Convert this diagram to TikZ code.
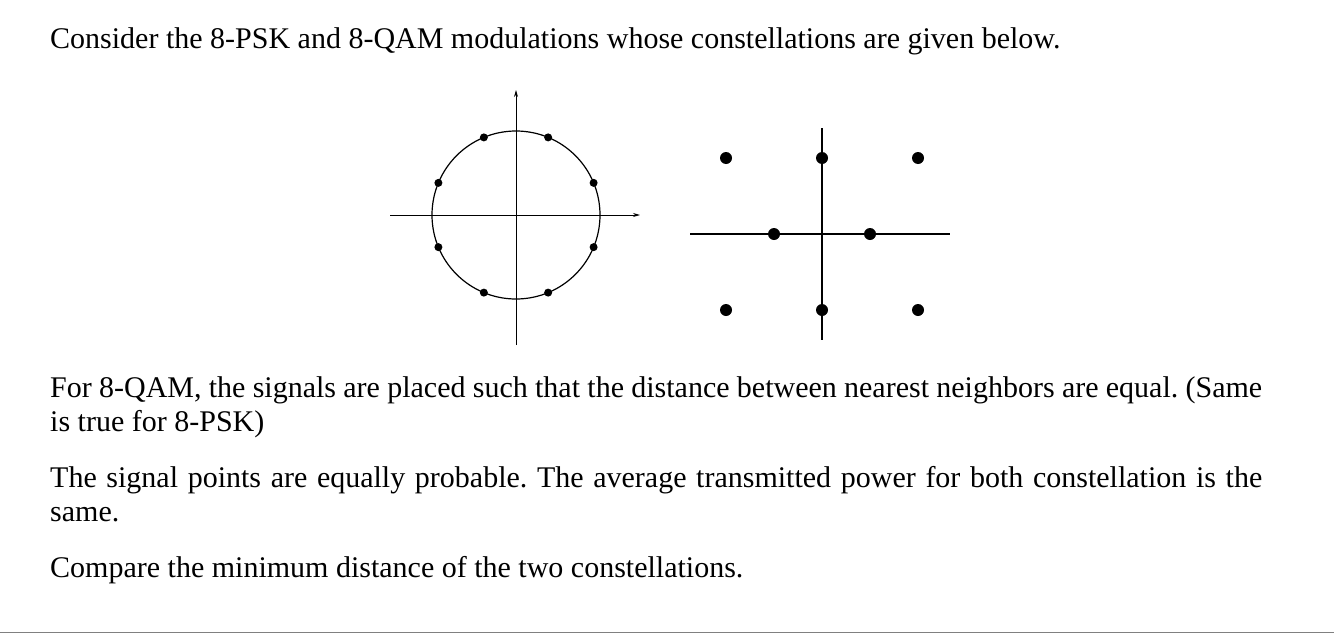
\documentclass[tikz,border=0pt]{standalone}
\usepackage{fontspec}
\setmainfont{Liberation Serif}
\usetikzlibrary{arrows.meta,calc}
\begin{document}
\frenchspacing
\begin{tikzpicture}[x=1pt,y=-1pt,
  txt/.style={anchor=base west,inner sep=0pt,font=\fontsize{30}{36}\selectfont},
  dot/.style={circle,fill=black,inner sep=0pt,minimum size=#1}]
\useasboundingbox (0,0) rectangle (1334,635);
\node[txt] (t1) at (50,48) {Consider the 8-PSK and 8-QAM modulations whose constellations are given below.};
\node[txt] (t2) at (50,397) {\makebox[1212pt][s]{For 8-QAM, the signals are placed such that the distance between nearest neighbors are equal. (Same}};
\node[txt] (t3) at (50,431) {is true for 8-PSK)};
\node[txt] (t4) at (50,487) {\makebox[1212pt][s]{The signal points are equally probable. The average transmitted power for both constellation is the}};
\node[txt] (t5) at (50,521) {same.};
\node[txt] (t6) at (50,577) {Compare the minimum distance of the two constellations.};
% PSK
\coordinate (c) at (516,215);
\draw[line width=0.8pt,-{Stealth[length=7pt,width=4pt]}] (516,345) -- (516,90);
\draw[line width=0.8pt,-{Stealth[length=7pt,width=4pt]}] (390,215) -- (640,215);
\draw[line width=1.2pt] (c) circle (84);
\foreach \a [count=\i] in {22.5,67.5,...,337.5}
  \node[dot=8pt] (p\i) at ($(c)+(\a:84)$) {};
% QAM
\draw[line width=1.6pt] (822,128) -- (822,340);
\draw[line width=1.2pt] (690,234) -- (950,234);
\foreach \x/\y [count=\i] in {726/158,822/158,918/158,774/234,870/234,726/310,822/310,918/310}
  \node[dot=12pt] (q\i) at (\x,\y) {};
\draw[gray,line width=1pt] (0,632) -- (1334,632);
\end{tikzpicture}
\end{document}
